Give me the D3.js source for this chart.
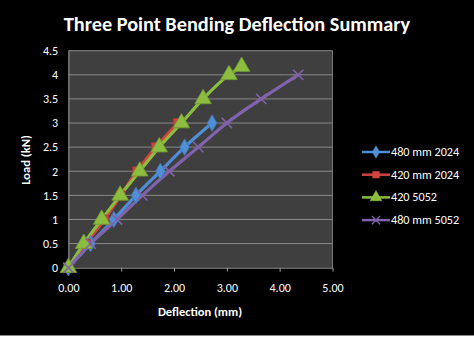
<!DOCTYPE html>
<html><head><meta charset="utf-8">
<script src="https://cdn.jsdelivr.net/npm/d3@7"></script>
<style>html,body{margin:0;padding:0;background:#fff;}svg{display:block;}</style>
</head><body><svg id="c" width="474" height="351"></svg>
<script>
const seriesNames = ["480 mm 2024", "420 mm 2024", "420 5052", "480 mm 5052"];
const loads_480_2024 = [0, 0.5, 1, 1.5, 2, 2.5, 3];
const defl_480_2024 = [0, 0.42, 0.86, 1.28, 1.74, 2.20, 2.72];
const loads_420_2024 = [0, 0.5, 1, 1.5, 2, 2.5, 3];
const defl_420_2024 = [0, 0.33, 0.68, 0.99, 1.30, 1.66, 2.07];
const loads_420_5052 = [0, 0.5, 1, 1.5, 2, 2.5, 3, 3.5, 4, 4.17];
const defl_420_5052 = [0, 0.29, 0.63, 0.98, 1.35, 1.72, 2.14, 2.55, 3.04, 3.28];
const loads_480_5052 = [0, 0.5, 1, 1.5, 2, 2.5, 3, 3.5, 4];
const defl_480_5052 = [0, 0.42, 0.92, 1.40, 1.91, 2.46, 3.00, 3.65, 4.35];
const xTicks = [0, 1, 2, 3, 4, 5];
const yTicks = [0, 0.5, 1, 1.5, 2, 2.5, 3, 3.5, 4, 4.5];

const colors = ["#4f8fd6", "#d2433f", "#8cbd3f", "#8062ad"];
const symbols = [d3.symbolDiamond, d3.symbolSquare, d3.symbolTriangle, d3.symbolX];
const series = [
  {name: seriesNames[0], x: defl_480_2024, y: loads_480_2024},
  {name: seriesNames[1], x: defl_420_2024, y: loads_420_2024},
  {name: seriesNames[2], x: defl_420_5052, y: loads_420_5052},
  {name: seriesNames[3], x: defl_480_5052, y: loads_480_5052}
];

const svg = d3.select("#c");
svg.append("rect").attr("width", 474).attr("height", 335).attr("fill", "#000");
svg.append("line").attr("x1", 0).attr("x2", 474).attr("y1", 335.5).attr("y2", 335.5).attr("stroke", "#888");

const font = "Carlito, 'Open Sans', 'Noto Sans', sans-serif";
const x = d3.scaleLinear().domain([0, 5]).range([68.4, 332.5]);
const y = d3.scaleLinear().domain([0, 4.5]).range([267.7, 50.7]);

svg.append("rect").attr("x", x(0)).attr("y", y(4.5)).attr("width", x(5) - x(0)).attr("height", y(0) - y(4.5)).attr("fill", "#3f3f3f");

// gridlines
svg.append("g").selectAll("line").data(yTicks.slice(1)).join("line")
  .attr("x1", x(0)).attr("x2", x(5)).attr("y1", d => y(d)).attr("y2", d => y(d))
  .attr("stroke", "#8a8a8a").attr("stroke-width", 1);
svg.append("line").attr("x1", x(5)).attr("x2", x(5)).attr("y1", y(4.5)).attr("y2", y(0)).attr("stroke", "#777");

// axes
const xAxis = svg.append("g").attr("transform", `translate(0,${y(0)})`)
  .call(d3.axisBottom(x).tickValues(xTicks).tickFormat(d3.format(".2f")).tickSize(4).tickSizeOuter(0));
const yAxis = svg.append("g").attr("transform", `translate(${x(0)},0)`)
  .call(d3.axisLeft(y).tickValues(yTicks).tickFormat(d => String(d)).tickSize(0).tickSizeOuter(0));
[xAxis, yAxis].forEach(g => {
  g.select(".domain").attr("stroke", "#999");
  g.selectAll(".tick line").attr("stroke", "#999");
  g.selectAll("text").attr("fill", "#fff").attr("font-size", 12).attr("font-family", font);
});
xAxis.selectAll("text").attr("dy", "1.45em");
yAxis.selectAll("text").attr("dx", "-0.6em");

// lines and markers
const line = d3.line().curve(d3.curveMonotoneX).x(d => x(d[0])).y(d => y(d[1]));
series.forEach((s, i) => {
  const pts = s.x.map((v, j) => [v, s.y[j]]);
  svg.append("path").datum(pts).attr("d", line).attr("fill", "none")
    .attr("stroke", colors[i]).attr("stroke-width", 3.2);
});
series.forEach((s, i) => {
  const pts = s.x.map((v, j) => [v, s.y[j]]);
  const sym = d3.symbol().type(symbols[i]).size(i === 2 ? 120 : (i === 3 ? 70 : 80));
  svg.append("g").selectAll("path").data(pts).join("path")
    .attr("transform", d => `translate(${x(d[0])},${y(d[1])})`)
    .attr("d", sym)
    .attr("fill", colors[i])
    .attr("stroke", i === 3 ? colors[i] : d3.color(colors[i]).darker(0.6))
    .attr("stroke-width", i === 3 ? 1.6 : 0.8);
});

// title
svg.append("text").attr("x", 237).attr("y", 31).attr("text-anchor", "middle")
  .attr("fill", "#fff").attr("font-weight", "bold").attr("font-size", 20.3).attr("font-family", font)
  .text("Three Point Bending Deflection Summary");
svg.append("text").attr("x", 200).attr("y", 316).attr("text-anchor", "middle")
  .attr("fill", "#fff").attr("font-weight", "bold").attr("font-size", 12.5).attr("font-family", font)
  .text("Deflection (mm)");
svg.append("text").attr("transform", "translate(30,160) rotate(-90)").attr("text-anchor", "middle")
  .attr("fill", "#fff").attr("font-weight", "bold").attr("font-size", 12.5).attr("font-family", font)
  .text("Load (kN)");

// legend
const leg = svg.append("g").selectAll("g").data(series).join("g")
  .attr("transform", (d, i) => `translate(362,${152 + i * 22.7})`);
leg.append("line").attr("x1", 0).attr("x2", 28).attr("stroke", (d, i) => colors[i]).attr("stroke-width", 2.5);
leg.append("path").attr("transform", "translate(14,0)")
  .attr("d", (d, i) => d3.symbol().type(symbols[i]).size(i === 2 ? 60 : 45)())
  .attr("fill", (d, i) => colors[i]).attr("stroke", (d, i) => colors[i]).attr("stroke-width", (d, i) => i === 3 ? 1.3 : 0.5);
leg.append("text").attr("x", 29).attr("y", 4).attr("fill", "#fff").attr("font-size", 12.2).attr("font-family", font)
  .text(d => d.name);
</script></body></html>
